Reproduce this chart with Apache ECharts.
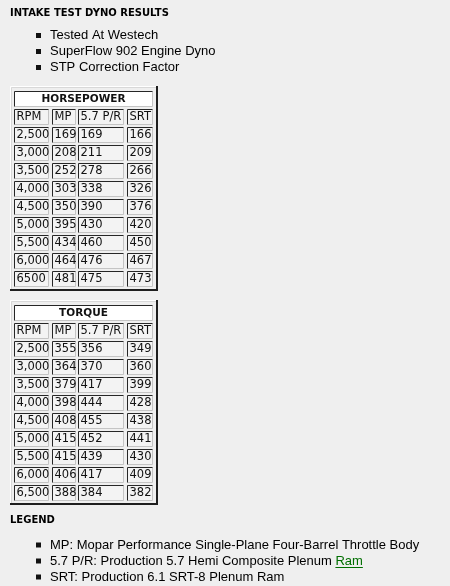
<!DOCTYPE html>
<html><head><meta charset="utf-8">
<script src="https://cdn.jsdelivr.net/npm/echarts@6/dist/echarts.min.js"></script>
<style>html,body{margin:0;padding:0;background:#efefef}#c{width:450px;height:586px}</style>
</head><body><div id="c"></div>
<script>
// ---- data ----
const colHeaders = ['RPM', 'MP', '5.7 P/R', 'SRT'];
const hpTitle = 'HORSEPOWER';
const hpRPM = ['2,500', '3,000', '3,500', '4,000', '4,500', '5,000', '5,500', '6,000', '6500'];
const hpMP  = [169, 208, 252, 303, 350, 395, 434, 464, 481];
const hpPR  = [169, 211, 278, 338, 390, 430, 460, 476, 475];
const hpSRT = [166, 209, 266, 326, 376, 420, 450, 467, 473];
const tqTitle = 'TORQUE';
const tqRPM = ['2,500', '3,000', '3,500', '4,000', '4,500', '5,000', '5,500', '6,000', '6,500'];
const tqMP  = [355, 364, 379, 398, 408, 415, 415, 406, 388];
const tqPR  = [356, 370, 417, 444, 455, 452, 439, 417, 384];
const tqSRT = [349, 360, 399, 428, 438, 441, 430, 409, 382];
const heading = 'INTAKE TEST DYNO RESULTS';
const introItems = ['Tested At Westech', 'SuperFlow 902 Engine Dyno', 'STP Correction Factor'];
const legendHeading = 'LEGEND';
const legendItems = ['MP: Mopar Performance Single-Plane Four-Barrel Throttle Body',
                     '5.7 P/R: Production 5.7 Hemi Composite Plenum ',
                     'SRT: Production 6.1 SRT-8 Plenum Ram'];
const legendLink = 'Ram';

// ---- layout / style ----
const TABLE_W = 139;
const COL_RECTS = [[0, 35], [37.7, 61.7], [64.3, 110.3], [113, 139]];
const CELL_FONT = '11.5px "DejaVu Sans"';
const TITLE_FONT = 'bold 10.5px "DejaVu Sans"';
const BODY_FONT = '13px "Liberation Sans"';
const HEAD_FONT = 'bold 10px "DejaVu Sans"';

function buildCells(title, rpm, mp, pr, srt) {
  const cells = [{col: -1, row: 0, text: title, kind: 'title'}];
  colHeaders.forEach((h, c) => cells.push({col: c, row: 1, text: h, kind: 'cell'}));
  rpm.forEach((r, i) => {
    [r, mp[i], pr[i], srt[i]].forEach((v, c) => cells.push({col: c, row: i + 2, text: String(v), kind: 'cell'}));
  });
  return cells;
}
const tables = [
  {cells: buildCells(hpTitle, hpRPM, hpMP, hpPR, hpSRT), rows: ['t', 'h'].concat(hpRPM)},
  {cells: buildCells(tqTitle, tqRPM, tqMP, tqPR, tqSRT), rows: ['t', 'h'].concat(tqRPM)}
];
const grids = [
  {left: 14, top: 89, width: TABLE_W, height: 198},
  {left: 14, top: 303, width: TABLE_W, height: 198}
];

function makeRender(cells) {
  return function (params, api) {
    const d = cells[params.dataIndex];
    const bandH = api.size([0, 1])[1];
    const cy = api.coord([0, d.row])[1];
    const x0px = api.coord([d.col < 0 ? 0 : COL_RECTS[d.col][0], d.row])[0];
    const x1px = api.coord([d.col < 0 ? TABLE_W : COL_RECTS[d.col][1], d.row])[0];
    const h = bandH - 3;
    const y0 = Math.round(cy - h / 2) + 0.5;
    const y1 = y0 + h;
    const xa = Math.round(x0px) + 0.5, xb = Math.round(x1px) - 0.5;
    const isTitle = d.kind === 'title';
    return {
      type: 'group',
      children: [
        {type: 'rect', shape: {x: xa, y: y0, width: xb - xa, height: h},
         style: {fill: isTitle ? '#ffffff' : '#f3f3f3'}},
        {type: 'polyline', shape: {points: [[xb, y0], [xb, y1], [xa, y1]]},
         style: {stroke: '#c4c4c4', lineWidth: 1, fill: null}},
        {type: 'polyline', shape: {points: [[xa, y1], [xa, y0], [xb, y0]]},
         style: {stroke: '#262626', lineWidth: 1, fill: null}},
        {type: 'text', style: {
          text: d.text,
          x: isTitle ? (xa + xb) / 2 : xa + 2,
          y: (y0 + y1) / 2 + 0.5,
          font: isTitle ? TITLE_FONT : CELL_FONT,
          fill: '#111',
          align: isTitle ? 'center' : 'left',
          verticalAlign: 'middle'
        }}
      ]
    };
  };
}

// ---- text measurement for the link underline ----
const mctx = document.createElement('canvas').getContext('2d');
mctx.font = BODY_FONT;
const prefixW = mctx.measureText(legendItems[1]).width;
const linkW = mctx.measureText(legendLink).width;

// ---- graphics (texts, bullets, frames) ----
const graphic = [];
function addText(text, x, y, font, fill) {
  graphic.push({type: 'text', style: {text, x, y, font, fill: fill || '#000', align: 'left', verticalAlign: 'middle'}});
}
function addBullet(y) {
  graphic.push({type: 'rect', shape: {x: 36, y: y - 2.5, width: 5, height: 5}, style: {fill: '#111'}});
}
addText(heading, 10, 13.5, HEAD_FONT);
const introY = [35.5, 51.5, 67.5];
introItems.forEach((t, i) => { addBullet(introY[i]); addText(t, 50, introY[i], BODY_FONT); });
addText(legendHeading, 10, 520.5, HEAD_FONT);
const legY = [545, 561, 577];
legendItems.forEach((t, i) => { addBullet(legY[i]); addText(t, 50, legY[i], BODY_FONT); });
addText(legendLink, 50 + prefixW, legY[1], BODY_FONT, '#006e00');
graphic.push({type: 'line', shape: {x1: 50 + prefixW, y1: legY[1] + 6.5, x2: 50 + prefixW + linkW, y2: legY[1] + 6.5},
  style: {stroke: '#006e00', lineWidth: 1}});

function addFrame(l, t, r, b) {
  graphic.push({type: 'polyline', shape: {points: [[l + 0.5, b], [l + 0.5, t + 0.5], [r, t + 0.5]]},
    style: {stroke: '#ffffff', lineWidth: 1, fill: null}});
  graphic.push({type: 'polyline', shape: {points: [[l + 1.5, b - 1], [l + 1.5, t + 1.5], [r - 1, t + 1.5]]},
    style: {stroke: '#d8d8d8', lineWidth: 1, fill: null}});
  graphic.push({type: 'polyline', shape: {points: [[r - 1, t], [r - 1, b - 1], [l, b - 1]]},
    style: {stroke: '#1e1e1e', lineWidth: 2, fill: null}});
}
addFrame(10, 86, 158, 291);
addFrame(10, 300, 158, 505);

const option = {
  backgroundColor: '#efefef',
  animation: false,
  grid: grids,
  xAxis: grids.map((g, i) => ({type: 'value', gridIndex: i, min: 0, max: TABLE_W, show: false})),
  yAxis: tables.map((t, i) => ({type: 'category', gridIndex: i, data: t.rows.map((r, k) => k + ':' + r), inverse: true, show: false})),
  series: tables.map((t, i) => ({
    type: 'custom', xAxisIndex: i, yAxisIndex: i, silent: true,
    data: t.cells.map(c => [c.col < 0 ? TABLE_W / 2 : (COL_RECTS[c.col][0] + COL_RECTS[c.col][1]) / 2, c.row]),
    encode: {x: 0, y: 1},
    clip: false,
    renderItem: makeRender(t.cells)
  })),
  graphic: graphic
};
const chart = echarts.init(document.getElementById('c'), null, {renderer: 'canvas'});
chart.setOption(option);
</script></body></html>
